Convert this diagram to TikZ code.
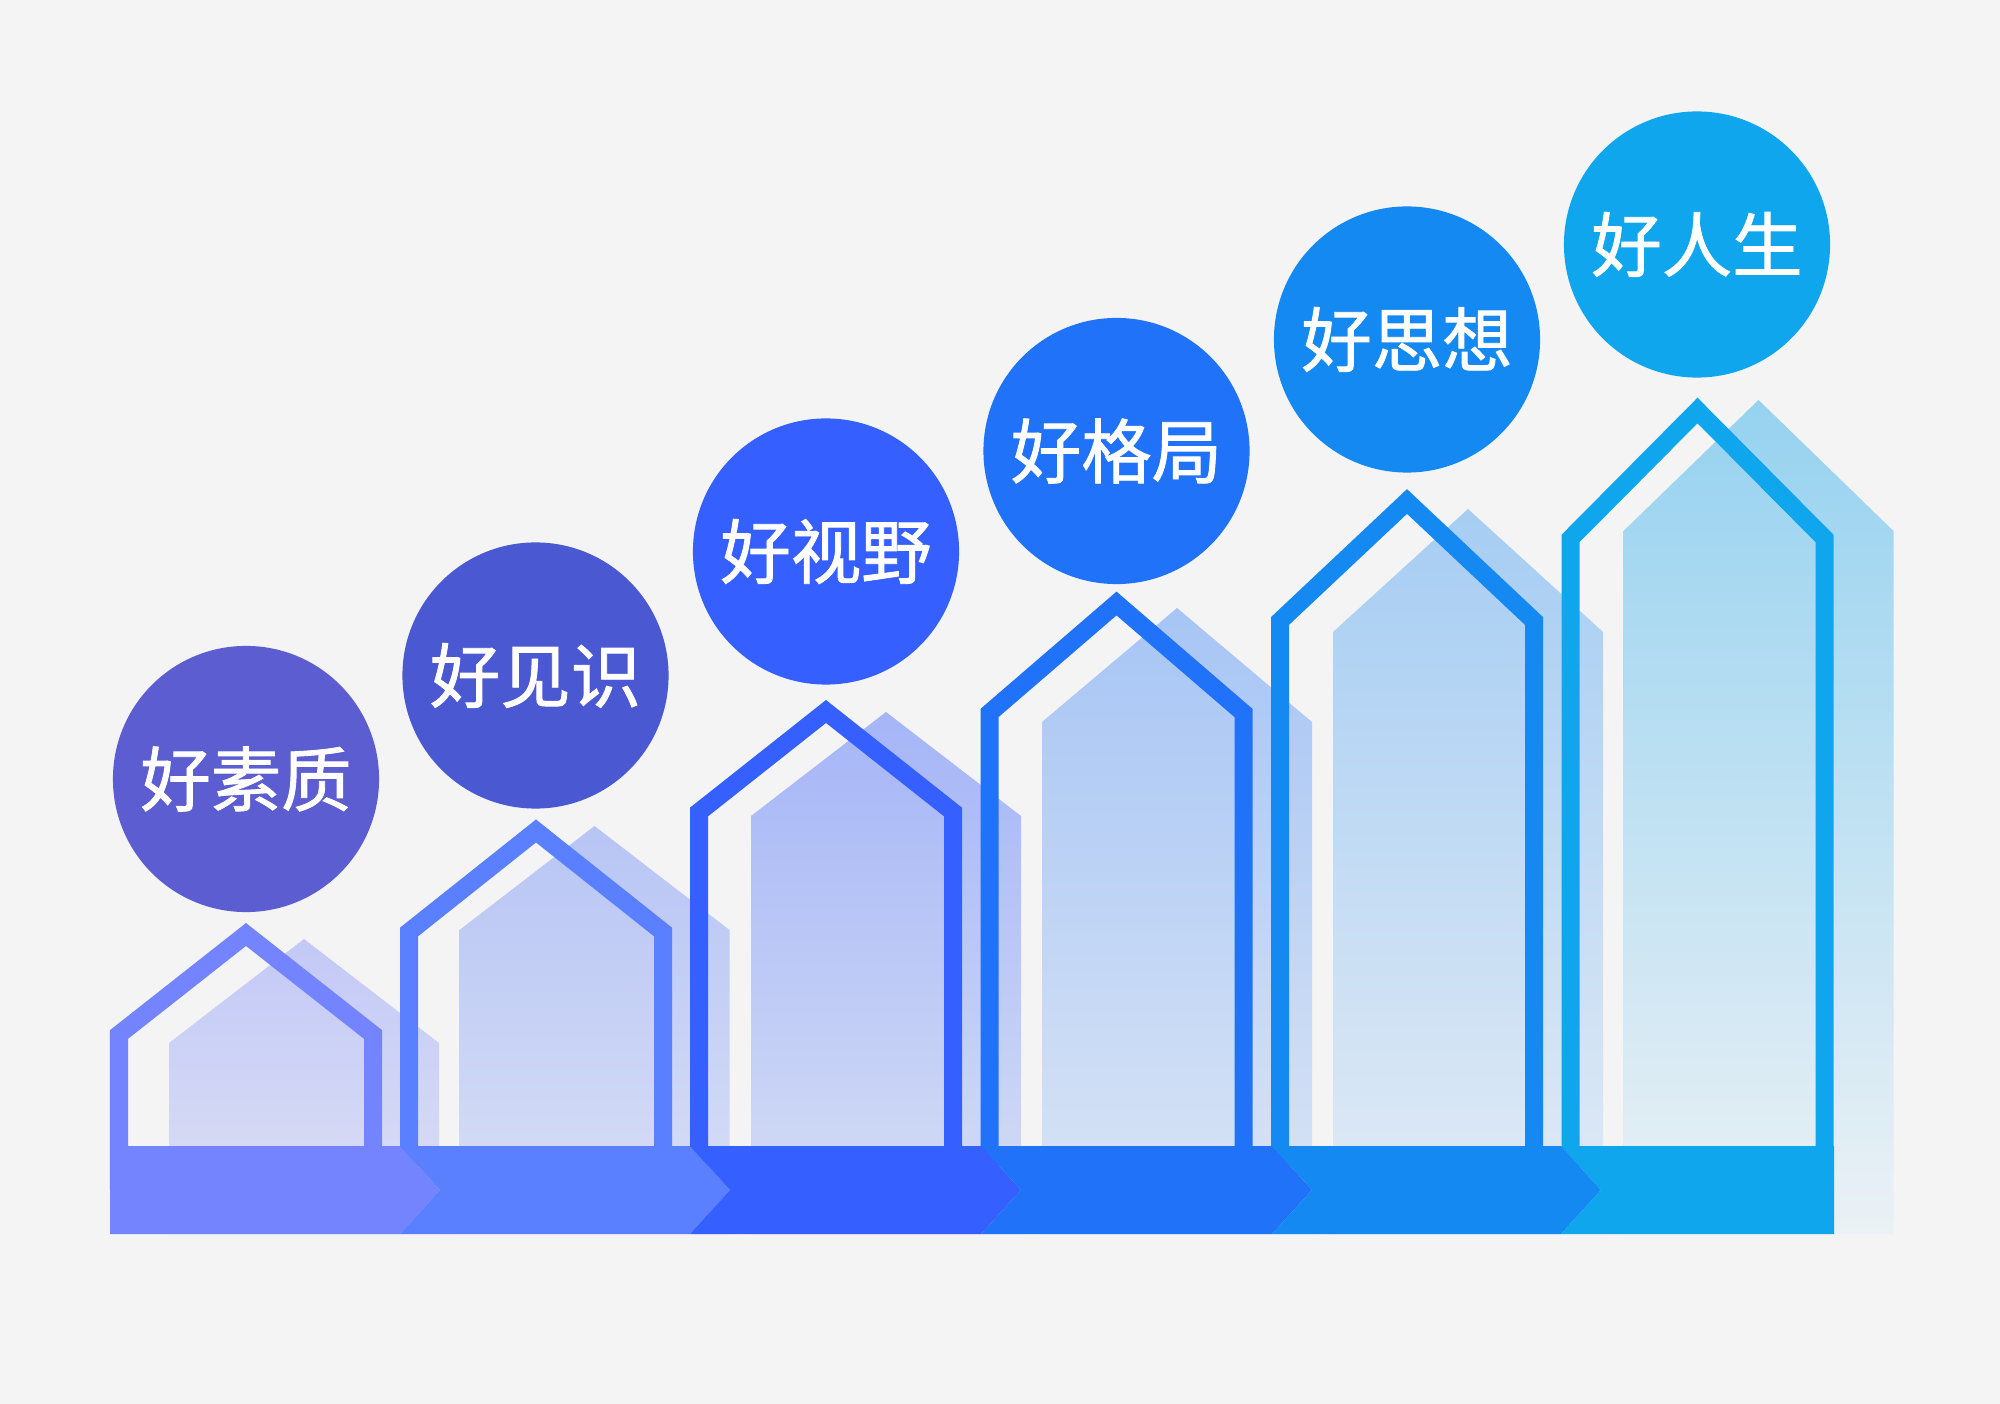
\documentclass[tikz,border=0pt]{standalone}
\usepackage{fontspec}
\newfontfamily\cjk[FakeBold=1.2]{Noto Sans CJK SC}
\definecolor{bgcol}{HTML}{F4F4F4}
\definecolor{band1}{HTML}{7484FF}
\definecolor{band2}{HTML}{5B80FF}
\definecolor{band3}{HTML}{3560FF}
\definecolor{band4}{HTML}{2072F9}
\definecolor{band5}{HTML}{1589F2}
\definecolor{band6}{HTML}{0FA6EE}
\definecolor{disc1}{HTML}{5B5DD1}
\definecolor{disc2}{HTML}{4A58D2}
\definecolor{disc3}{HTML}{3560FF}
\definecolor{disc4}{HTML}{2072F9}
\definecolor{disc5}{HTML}{1589F2}
\definecolor{disc6}{HTML}{0FA6EE}
\definecolor{tint1}{HTML}{C3C9F6}
\definecolor{tint2}{HTML}{B8C5F5}
\definecolor{tint3}{HTML}{A5B5F7}
\definecolor{tint4}{HTML}{A7C5F5}
\definecolor{tint5}{HTML}{A6CDF3}
\definecolor{tint6}{HTML}{96D2F0}
\definecolor{pale1}{HTML}{DDE0F5}
\definecolor{pale2}{HTML}{D8DFF5}
\definecolor{pale3}{HTML}{D6DEF5}
\definecolor{pale4}{HTML}{DAE5F5}
\definecolor{pale5}{HTML}{E2EBF5}
\definecolor{pale6}{HTML}{EBF1F5}
\begin{document}
\begin{tikzpicture}[x=0.01cm,y=-0.01cm,
    ball/.style={circle,minimum size=2.66cm,inner sep=0pt,text=white,
      font=\cjk\fontsize{20pt}{24pt}\selectfont},
    ring/.style={line width=0.18cm,line join=miter}]
  \useasboundingbox[fill=bgcol] (0,0) rectangle (2000,1404);
  \foreach \c/\a/\s/\k in {304/939/1043/1, 594.5/826/930/2, 886/712/816/3,
      1177/608/722/4, 1468/509/632/5, 1758.5/400/531/6}
    \shade[top color=tint\k,bottom color=pale\k]
      (\c-135,1234) -- (\c-135,\s) -- (\c,\a) -- (\c+135,\s) -- (\c+135,1234) -- cycle;
  \foreach \c/\a/\s/\k in {246/934.5/1034.5/1, 536/831/932/2, 826/711.5/812/3,
      1116.5/603.5/713/4, 1407/501.5/621/5, 1697.5/410.5/538.5/6}
    \draw[ring,band\k]
      (\c-127,1190) -- (\c-127,\s) -- (\c,\a) -- (\c+127,\s) -- (\c+127,1190);
  \fill[band1] (110,1146) -- (400,1146) -- (440,1190) -- (400,1234) -- (110,1234) -- cycle;
  \foreach \l/\r/\k in {400/690/2, 690/981/3, 981/1272/4, 1272/1561/5}
    \fill[band\k] (\l,1146) -- (\r,1146) -- (\r+40,1190) -- (\r,1234)
      -- (\l,1234) -- (\l+40,1190) -- cycle;
  \fill[band6] (1561,1146) -- (1834,1146) -- (1834,1234) -- (1561,1234) -- (1601,1190) -- cycle;
  \node[ball,fill=disc1] (c1) at (246,779) {好素质};
  \node[ball,fill=disc2] (c2) at (535.5,675.5) {好见识};
  \node[ball,fill=disc3] (c3) at (826,551.5) {好视野};
  \node[ball,fill=disc4] (c4) at (1116.5,451) {好格局};
  \node[ball,fill=disc5] (c5) at (1407,339.5) {好思想};
  \node[ball,fill=disc6] (c6) at (1697,244.5) {好人生};
\end{tikzpicture}
\end{document}
